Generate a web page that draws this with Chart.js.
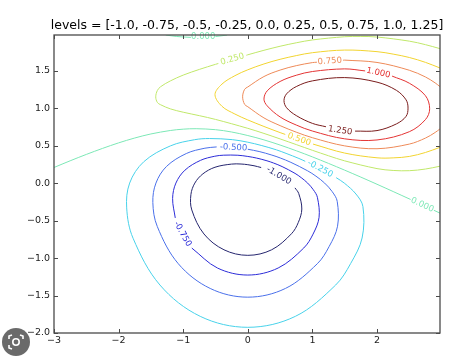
<!DOCTYPE html>
<html><head><meta charset="utf-8">
<script src="https://cdn.jsdelivr.net/npm/chart.js@4.4.1/dist/chart.umd.min.js"></script>
<style>html,body{margin:0;padding:0;background:#fff;}canvas{display:block;}</style>
</head><body>
<canvas id="c" width="474" height="356"></canvas>
<script>
// ---------- data ----------
const titleText = 'levels = [-1.0, -0.75, -0.5, -0.25, 0.0, 0.25, 0.5, 0.75, 1.0, 1.25]';
const levels = [-1.0, -0.75, -0.5, -0.25, 0.0, 0.25, 0.5, 0.75, 1.0, 1.25];
const xTicks = [-3, -2, -1, 0, 1, 2];
const yTicks = [-2.0, -1.5, -1.0, -0.5, 0.0, 0.5, 1.0, 1.5];
const xRange = [-3, 2.975];
const yRange = [-2, 1.975];

// contour paths, [x, y]
const levelM100 = [[0.207,0.207],[0.096,0.231],[0,0.245],[-0.105,0.254],[-0.253,0.253],[-0.508,0.211],[-0.695,0.123],[-0.82,0],[-0.881,-0.155],[-0.867,-0.359],[-0.679,-0.679],[-0.369,-0.89],[0,-0.964],[0.369,-0.89],[0.676,-0.676],[0.781,-0.527],[0.836,-0.346],[0.788,-0.139],[0.73,-0.064]];
const levelM075 = [[-0.867,-0.867],[-0.47,-1.133],[0,-1.227],[0.47,-1.133],[0.866,-0.866],[1.01,-0.681],[1.103,-0.457],[1.077,-0.19],[1.014,-0.089],[0.926,0],[0.827,0.072],[0.731,0.129],[0.531,0.22],[0.399,0.267],[0.297,0.297],[0.138,0.333],[0,0.355],[-0.154,0.371],[-0.372,0.372],[-0.511,0.358],[-0.732,0.303],[-0.973,0.172],[-1.113,0],[-1.164,-0.205],[-1.123,-0.465]];
const levelM050 = [[-0.482,0.482],[-0.664,0.465],[-0.952,0.394],[-1.258,0.222],[-1.422,0],[-1.47,-0.259],[-1.401,-0.58],[-1.076,-1.076],[-0.582,-1.406],[0,-1.522],[0.582,-1.406],[1.076,-1.076],[1.258,-0.848],[1.389,-0.576],[1.384,-0.244],[1.306,-0.114],[1.189,0],[1.055,0.092],[0.926,0.163],[0.667,0.276],[0.501,0.335],[0.373,0.373],[0.175,0.421],[0,0.451]];
const levelM025 = [[0.889,0.29],[0.792,0.328],[0.592,0.396],[0.443,0.443],[0.208,0.502],[0,0.545],[-0.24,0.579],[-0.594,0.594],[-0.825,0.578],[-1.198,0.496],[-1.611,0.284],[-1.829,0],[-1.875,-0.331],[-1.776,-0.736],[-1.36,-1.36],[-0.736,-1.778],[0,-1.924],[0.736,-1.778],[1.36,-1.36],[1.592,-1.073],[1.769,-0.733],[1.782,-0.314],[1.674,-0.146],[1.493,0],[1.368,0.072]];
const level000a = [[-3,0.208],[-2.75,0.297],[-2.5,0.382],[-2.25,0.462],[-2,0.536],[-1.75,0.601],[-1.5,0.655],[-1.2,0.701],[-1,0.719],[-0.8,0.725],[-0.5,0.712],[-0.25,0.681],[0,0.634],[0.25,0.576],[0.5,0.507],[0.75,0.431],[1,0.349],[1.25,0.262],[1.5,0.172],[1.75,0.079],[2,-0.016],[2.25,-0.113],[2.52,-0.219]];
const level000b = [[2.88,-0.363],[2.975,-0.401]];
const level000c = [[-1.27,1.975],[-1.1,1.955],[-0.88,1.943]];
const level000d = [[-0.5,1.955],[-0.4,1.965],[-0.32,1.975]];
const level025a = [[2.975,1.793],[2.75,1.846],[2.5,1.893],[2,1.948],[1.75,1.956],[1.5,1.952],[1,1.909],[0.75,1.871],[0.5,1.825],[0.25,1.771],[0,1.711],[-0.023,1.705]];
const level025b = [[-0.456,1.595],[-0.5,1.584],[-0.75,1.516],[-1,1.44],[-1.2,1.362],[-1.35,1.285],[-1.4,1.235],[-1.425,1.15],[-1.4,1.075],[-1.35,1.045],[-1.2,0.99],[-1,0.945],[-0.75,0.899],[-0.5,0.849],[0,0.73],[0.25,0.662],[0.5,0.589],[0.75,0.513],[1,0.437],[1.25,0.364],[1.5,0.296],[2,0.193],[2.25,0.168],[2.5,0.165],[2.75,0.187],[2.975,0.225]];
const level050a = [[2.975,1.535],[2.75,1.61],[2.5,1.675],[2.25,1.72],[2,1.753],[1.5,1.774],[1,1.739],[0.75,1.7],[0.5,1.651],[0.25,1.589],[0,1.511],[-0.2,1.432],[-0.4,1.32],[-0.508,1.18],[-0.4,1.024],[-0.2,0.921],[0,0.842],[0.25,0.755],[0.5,0.673],[0.58,0.649]];
const level050b = [[1.01,0.52],[1.5,0.4],[2,0.337],[2.25,0.336],[2.5,0.355],[2.75,0.408],[2.975,0.477]];
const level075a = [[2.975,1.286],[2.9,1.336],[2.75,1.415],[2.5,1.505],[2,1.609],[1.5,1.64],[1.475,1.639]];
const level075b = [[1.07,1.612],[1,1.607],[0.75,1.566],[0.5,1.507],[0.25,1.421],[0,1.282],[-0.05,1.25],[-0.08,1.15],[-0.05,1.05],[0,1.018],[0.25,0.869],[0.5,0.766],[0.75,0.679],[1,0.605],[1.5,0.496],[2,0.458],[2.5,0.52],[2.75,0.6],[2.9,0.675],[2.975,0.723]];
const level100 = [[2.233,1.427],[2.5,1.332],[2.75,1.165],[2.815,0.99],[2.75,0.847],[2.5,0.685],[2,0.575],[1.5,0.59],[1,0.694],[0.75,0.774],[0.5,0.882],[0.3,1.03],[0.25,1.12],[0.3,1.23],[0.5,1.355],[0.75,1.438],[1,1.488],[1.5,1.523],[1.816,1.496]];
const level125 = [[1.66,0.693],[2,0.7],[2.3,0.789],[2.45,0.89],[2.48,1.0],[2.45,1.11],[2.3,1.237],[2,1.346],[1.5,1.407],[1,1.363],[0.75,1.287],[0.6,1.19],[0.56,1.1],[0.6,1.005],[0.75,0.9],[1,0.796],[1.21,0.751]];

const segmentLevels = [-1.0, -0.75, -0.5, -0.25, 0.0, 0.0, 0.0, 0.0, 0.25, 0.25, 0.5, 0.5, 0.75, 0.75, 1.0, 1.25];
const segmentPaths = [levelM100, levelM075, levelM050, levelM025, level000a, level000b, level000c, level000d, level025a, level025b, level050a, level050b, level075a, level075b, level100, level125];

// inline contour labels
const labelTexts  = ['0.000', '0.250', '0.500', '0.750', '1.000', '1.250', '-0.500', '-0.250', '-1.000', '-0.750', '0.000'];
const labelLevels = [0.0, 0.25, 0.5, 0.75, 1.0, 1.25, -0.5, -0.25, -1.0, -0.75, 0.0];
const labelX      = [-0.69, -0.24, 0.795, 1.27, 2.02, 1.43, -0.22, 1.12, 0.48, -1.01, 2.70];
const labelY      = [1.948, 1.652, 0.582, 1.626, 1.47, 0.70, 0.472, 0.19, 0.10, -0.68, -0.291];
const labelAngle  = [0, -16, 19, -4, 12, 8.5, 3, 28, 31, 61, 25];

// ---------- styles ----------
const levelColors = ['#25256e', '#2c2cd8', '#4a70ea', '#48d2ea', '#7ce8b6', '#c0e86a', '#f2d430', '#ee8a58', '#e43434', '#7a1c1c'];
const colorOf = v => levelColors[levels.indexOf(v)];
const FONT = '"DejaVu Sans", "Liberation Sans", sans-serif';
const fmtX = v => (v < 0 ? '\u2212' : '') + Math.abs(v).toString();
const fmtY = v => (v < 0 ? '\u2212' : '') + Math.abs(v).toFixed(1);

const datasets = segmentPaths.map((pts, i) => ({
  data: pts.map(p => ({x: p[0], y: p[1]})),
  showLine: true,
  borderColor: colorOf(segmentLevels[i]),
  borderWidth: 1,
  pointRadius: 0,
  pointHoverRadius: 0,
  tension: 0.35,
  fill: false
}));

const overlay = {
  id: 'overlay',
  afterDatasetsDraw(chart) {
    const {ctx, chartArea: a, scales: {x, y}} = chart;
    ctx.save();
    // contour labels
    ctx.font = '8.5px ' + FONT;
    ctx.textAlign = 'center';
    ctx.textBaseline = 'middle';
    labelTexts.forEach((t, i) => {
      ctx.save();
      ctx.translate(x.getPixelForValue(labelX[i]), y.getPixelForValue(labelY[i]));
      ctx.rotate(labelAngle[i] * Math.PI / 180);
      ctx.fillStyle = colorOf(labelLevels[i]);
      ctx.fillText(t, 0, 0);
      ctx.restore();
    });
    // frame
    ctx.strokeStyle = '#4a4a4a';
    ctx.lineWidth = 1.3;
    ctx.strokeRect(a.left, a.top, a.right - a.left, a.bottom - a.top);
    // inward ticks on all four sides
    ctx.lineWidth = 1;
    ctx.beginPath();
    xTicks.forEach(v => {
      const px = Math.round(x.getPixelForValue(v)) + 0.5;
      ctx.moveTo(px, a.bottom); ctx.lineTo(px, a.bottom - 4);
      ctx.moveTo(px, a.top); ctx.lineTo(px, a.top + 4);
    });
    yTicks.forEach(v => {
      const py = Math.round(y.getPixelForValue(v)) + 0.5;
      ctx.moveTo(a.left, py); ctx.lineTo(a.left + 4, py);
      ctx.moveTo(a.right, py); ctx.lineTo(a.right - 4, py);
    });
    ctx.stroke();
    // title centred over the plot area
    ctx.fillStyle = '#000';
    ctx.font = '12.5px ' + FONT;
    ctx.textAlign = 'center';
    ctx.textBaseline = 'middle';
    ctx.fillText(titleText, (a.left + a.right) / 2, 26);
    ctx.restore();
  },
  afterDraw(chart) {
    // screenshot overlay icon (bottom-left)
    const ctx = chart.ctx;
    ctx.save();
    ctx.fillStyle = 'rgba(90,90,90,0.9)';
    ctx.beginPath(); ctx.arc(16, 342, 14, 0, Math.PI * 2); ctx.fill();
    ctx.strokeStyle = '#fff'; ctx.lineWidth = 1.6;
    ctx.beginPath(); ctx.arc(16, 342, 3.2, 0, Math.PI * 2); ctx.stroke();
    ctx.beginPath();
    ctx.moveTo(9, 339); ctx.lineTo(9, 336); ctx.lineTo(12, 335);
    ctx.moveTo(20, 335); ctx.lineTo(23, 336); ctx.lineTo(23, 339);
    ctx.moveTo(9, 345); ctx.lineTo(9, 348); ctx.lineTo(12, 349);
    ctx.stroke();
    ctx.restore();
  }
};

new Chart(document.getElementById('c'), {
  type: 'scatter',
  data: {datasets},
  options: {
    responsive: false,
    devicePixelRatio: 1,
    animation: false,
    events: [],
    layout: {padding: {left: 0, right: 34, top: 35, bottom: 0}},
    plugins: {
      legend: {display: false},
      tooltip: {enabled: false},
      title: {display: false}
    },
    scales: {
      x: {
        type: 'linear', min: xRange[0], max: xRange[1],
        afterBuildTicks: s => { s.ticks = xTicks.map(v => ({value: v})); },
        afterFit: s => { s.height = 23; },
        grid: {display: false, drawTicks: false},
        border: {display: false},
        ticks: {callback: v => fmtX(v), color: '#222', font: {family: FONT, size: 9.5}, padding: 2, maxRotation: 0, autoSkip: false}
      },
      y: {
        type: 'linear', min: yRange[0], max: yRange[1],
        afterBuildTicks: s => { s.ticks = yTicks.map(v => ({value: v})); },
        afterFit: s => { s.width = 54; },
        grid: {display: false, drawTicks: false},
        border: {display: false},
        ticks: {callback: v => fmtY(v), color: '#222', font: {family: FONT, size: 9.5}, padding: 4, autoSkip: false}
      }
    }
  },
  plugins: [overlay]
});
</script>
</body></html>
